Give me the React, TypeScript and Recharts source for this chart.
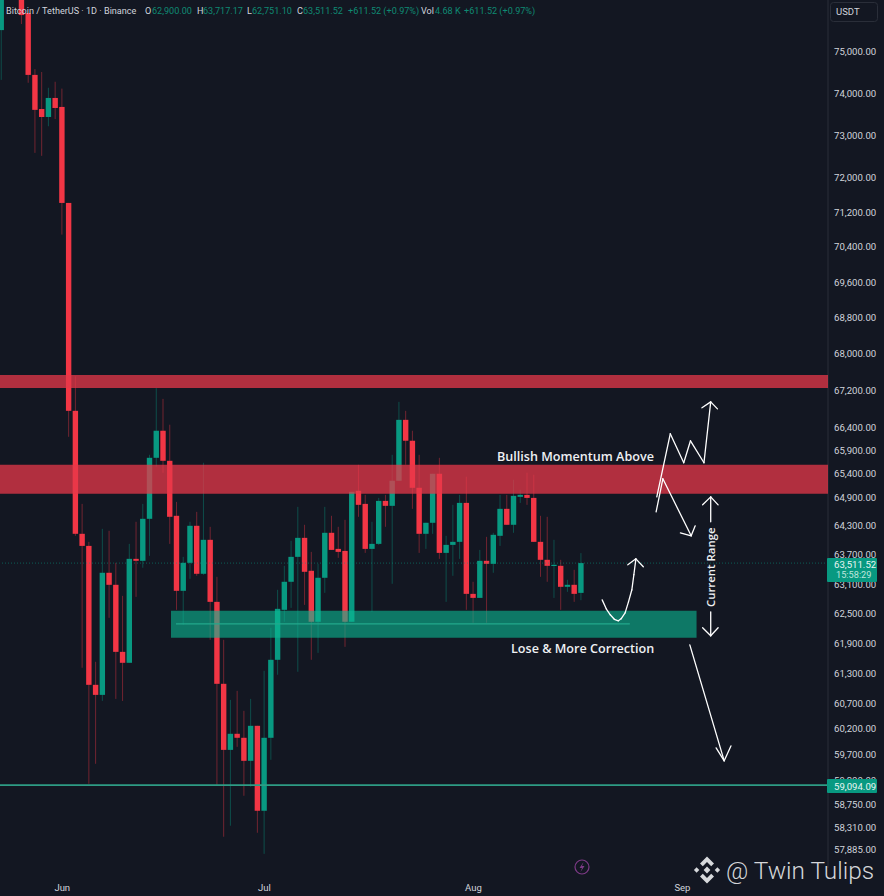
import React from "react";
import { ComposedChart, Bar, XAxis, YAxis, ReferenceArea, ReferenceLine } from "recharts";

const opens = [75510,null,null,76252,75930,74420,73600,73410,73865,73650,71390,66730,64118,63867,61050,60851,63312,63065,61707,61488,63599,63558,64431,65720,66300,65656,64494,62942,63517,64285,63291,63993,62717,61070,59774,60087,60009,59562,60243,58604,60009,61548,62555,63127,63640,64034,63353,62313,63209,64139,63805,63763,62313,65019,64744,63805,63909,64807,64703,65232,66535,66085,65083,64118,64348,65380,63722,63888,63951,64765,62880,62798,63558,63496,64076,64640,64306,64892,64934,64870,63951,63579,63455,63455,63024,63065,62900];
const highs = [76252,null,null,76252,75930,74560,74490,74110,74255,74090,71390,67480,64744,63951,61508,64222,64181,63517,62839,63909,64369,64744,65784,67225,66990,66430,64786,63640,64369,64577,65614,64264,63229,61949,60752,60931,60537,60772,60243,61329,62191,62963,63455,63972,64682,64306,63743,63496,64682,64494,64264,64410,64998,65571,64934,64369,64870,64934,65784,66925,66730,66300,65784,64348,65380,65720,64076,64724,64934,65317,63127,63784,64055,64139,64934,64934,65253,65040,65401,65359,64494,64473,63993,63579,63168,63373,63717.17];
const lows = [74300,null,null,75660,74230,72560,72490,73190,73360,70660,66170,64076,61389,59120,59505,60732,62393,60772,60732,61488,62819,63415,63661,65529,65401,63909,62555,62252,63188,63250,63271,61949,59101,58112,58320,59833,58890,59063,58187,57790,59582,61250,62313,62595,61309,62656,61548,61687,62901,63784,63620,61808,62313,64473,63722,62515,63888,64264,63086,65232,65571,64640,63722,63805,64118,63599,62717,63250,63599,62555,62292,62798,62292,63312,63867,64306,64139,64765,64724,63951,63229,63127,62798,62555,62921,62717,62751.1];
const closes = [76252,null,null,75880,74420,73580,73410,73865,73625,71390,66730,64118,63867,61050,60851,63312,63065,61707,61488,63599,63558,64431,65720,66300,65656,64473,62942,63517,64285,63291,63993,62717,61070,59774,60087,60009,59562,60243,58604,60009,61548,62575,63127,63640,64034,63332,62313,63209,64139,63784,63743,62313,64998,64724,63805,63909,64807,64703,65232,66535,66085,65083,64118,64348,65380,63722,63888,63951,64765,62880,62798,63558,63496,64097,64640,64306,64913,64934,64870,63951,63579,63455,63476,63024,63065,62880,63511.52];

const axisTicks = [75000,74000,73000,72000,71200,70400,69600,68800,68000,67200,66400,65900,65400,64900,64300,63700,63100,62500,61900,61300,60700,60200,59700,59200,58750,58310,57885];
const monthDays = [9,39,70,101];
const monthNames = ["Jun","Jul","Aug","Sep"];

const lastPrice = 63511.52;
const supportPrice = 59094.09;
const redZoneTop = [67513,67225];
const redZoneMid = [65571,64955];
const greenZone = [62535,61990];
const greenZoneDays = [25.13,103.1];
const innerLine = [[25.87,62272],[93.2,62272]];

const zigzag = [[97.2,64892],[99.2,66235],[101.2,65614],[102.2,66084],[104.2,65614],[105.2,66924]];
const zigzagHead = [[103.9,66795],[105.2,66924],[106.2,66773]];
const dropPath = [[97.1,64577],[98.1,65274],[102.3,64076]];
const dropHead = [[100.7,64139],[102.3,64076],[102.9,64285]];
const bouncePath = [[89.1,62757],[89.7,62575],[90.3,62454],[90.9,62363],[91.5,62333],[91.9,62373],[92.5,62494],[93,62717],[93.5,62963],[93.8,63271],[94.1,63599]];
const bounceHead = [[92.9,63476],[94.1,63599],[95.2,63435]];
const rangeTopLine = [[105.2,64369],[105.2,64892]];
const rangeTopHead = [[104,64724],[105.2,64892],[106.3,64724]];
const rangeBottomLine = [[105.2,62515],[105.2,62030]];
const rangeBottomHead = [[104,62191],[105.2,62030],[106.3,62191]];
const fallPath = [[102.1,61848],[107.2,59562]];
const fallHead = [[106,59812],[107.2,59562],[108.2,59851]];
const drawings = [zigzag,zigzagHead,dropPath,dropHead,bouncePath,bounceHead,rangeTopLine,rangeTopHead,rangeBottomLine,rangeBottomHead,fallPath,fallHead];

const candles = opens
  .map((o, i) => ({ i, o, h: highs[i], l: lows[i], c: closes[i] }))
  .filter((d) => d.o !== null);

const UP = "#089981";
const DOWN = "#f23645";
const BG = "#131722";
const TXT = "#d1d4dc";
const FONT = "Roboto, sans-serif";

function Candle(props: any) {
  const { x, y, width, height, payload } = props;
  const { o, h, l, c } = payload;
  const top = Math.min(y, y + height);
  const span = Math.abs(height);
  const py = (p: number) => top + (span * Math.log(h / p)) / Math.log(h / l);
  const cx = x + width / 2;
  const up = c >= o;
  const col = up ? UP : DOWN;
  const bt = py(Math.max(o, c));
  const bb = py(Math.min(o, c));
  return (
    <g>
      <rect x={cx - 0.5} y={top} width={1} height={span} fill={col} fillOpacity={0.42} />
      <rect x={cx - 2.7} y={bt} width={5.4} height={Math.max(bb - bt, 1.2)} fill={col} />
    </g>
  );
}

const fmt = (v: number) => v.toLocaleString("en-US", { minimumFractionDigits: 2, maximumFractionDigits: 2 });

export default function App() {
  return (
    <div style={{ position: "absolute", left: 0, top: 0, width: 884, height: 896, background: BG, overflow: "hidden" }}>
      <ComposedChart
        width={884}
        height={896}
        data={candles}
        margin={{ top: 0, right: 0, bottom: 0, left: 0 }}
      >
        <XAxis
          type="number"
          dataKey="i"
          domain={[-0.237, 122.6]}
          allowDataOverflow
          ticks={monthDays}
          interval={0}
          height={28}
          axisLine={false}
          tickLine={false}
          tickSize={0}
          tickMargin={16}
          tick={{ fill: TXT, fontSize: 9.5, fontFamily: FONT }}
          tickFormatter={(v: number) => monthNames[monthDays.indexOf(v)]}
        />
        <YAxis
          orientation="right"
          scale="log"
          domain={[57525, 76252]}
          allowDataOverflow
          ticks={axisTicks}
          interval={0}
          width={56}
          axisLine={{ stroke: "#2a2e39" }}
          tickLine={false}
          tickSize={0}
          tickMargin={6}
          tick={{ fill: TXT, fontSize: 9.6, fontFamily: FONT, dy: 1 }}
          tickFormatter={fmt}
        />
        <ReferenceLine y={lastPrice} stroke={UP} strokeOpacity={0.55} strokeDasharray="1 2" ifOverflow="visible" />
        <Bar
          dataKey={(d: any) => [d.l, d.h]}
          barSize={6}
          isAnimationActive={false}
          shape={<Candle />}
        />
        <ReferenceArea x1={-0.237} x2={122.6} y1={redZoneTop[0]} y2={redZoneTop[1]} fill="#e7384a" fillOpacity={0.75} stroke="none" ifOverflow="visible" zIndex={600} />
        <ReferenceArea x1={-0.237} x2={122.6} y1={redZoneMid[0]} y2={redZoneMid[1]} fill="#e7384a" fillOpacity={0.75} stroke="none" ifOverflow="visible" zIndex={600} />
        <ReferenceArea x1={greenZoneDays[0]} x2={greenZoneDays[1]} y1={greenZone[0]} y2={greenZone[1]} fill="#0cb995" fillOpacity={0.6} stroke="none" ifOverflow="visible" zIndex={600} />
        <ReferenceLine
          segment={innerLine.map(([x, y]) => ({ x, y }))}
          stroke="#22a88c"
          strokeWidth={1.3}
          ifOverflow="visible"
          zIndex={700}
        />
        <ReferenceLine y={supportPrice} stroke="#2e9c85" strokeWidth={1.6} ifOverflow="visible" zIndex={700} />
        {drawings.flatMap((path, k) =>
          path.slice(1).map((pt, j) => (
            <ReferenceLine
              key={`${k}-${j}`}
              segment={[
                { x: path[j][0], y: path[j][1] },
                { x: pt[0], y: pt[1] },
              ]}
              stroke="#ffffff"
              strokeWidth={1.3}
              strokeLinecap="round"
              ifOverflow="visible"
              zIndex={800}
            />
          ))
        )}
      </ComposedChart>

      <svg width={884} height={896} style={{ position: "absolute", left: 0, top: 0, pointerEvents: "none" }}>
        <g fontFamily={FONT} fontSize={9.1}>
          <text x={6} y={14} fill={TXT}>Bitcoin / TetherUS · 1D · Binance</text>
          <text x={145} y={14} fill={TXT}>O</text>
          <text x={152} y={14} fill="#0f8a73">62,900.00</text>
          <text x={197} y={14} fill={TXT}>H</text>
          <text x={203} y={14} fill="#0f8a73">63,717.17</text>
          <text x={247} y={14} fill={TXT}>L</text>
          <text x={252} y={14} fill="#0f8a73">62,751.10</text>
          <text x={297} y={14} fill={TXT}>C</text>
          <text x={303} y={14} fill="#0f8a73">63,511.52</text>
          <text x={348} y={14} fill="#0f8a73">+611.52 (+0.97%)</text>
          <text x={421} y={14} fill={TXT}>Vol</text>
          <text x={435} y={14} fill="#0f8a73">4.68 K</text>
          <text x={464} y={14} fill="#0f8a73">+611.52 (+0.97%)</text>
        </g>

        <rect x={830.5} y={2.5} width={47} height={19} rx={3} fill={BG} stroke="#2a2e39" />
        <text x={836} y={15} fill={TXT} fontFamily={FONT} fontSize={9.5}>USDT</text>

        <rect x={827} y={558} width={50} height={24} rx={1} fill={UP} />
        <text x={834} y={568} fill="#e8f5f2" fontFamily={FONT} fontSize={9.6}>63,511.52</text>
        <text x={836} y={578} fill="#bfe6dd" fontFamily={FONT} fontSize={9.2}>15:58:29</text>
        <rect x={827} y={779} width={50} height={14} rx={1} fill={UP} />
        <text x={834} y={789.5} fill="#e8f5f2" fontFamily={FONT} fontSize={9.6}>59,094.09</text>

        <g fontFamily="'Open Sans', sans-serif" fontWeight={600} fill="#eef0f3">
          <text x={497} y={460.5} fontSize={12.6}>Bullish Momentum Above</text>
          <text x={511} y={653} fontSize={12.6}>Lose &amp; More Correction</text>
          <text x={715} y={607} fontSize={11.4} transform="rotate(-90 715 607)">Current Range</text>
        </g>

        <g fill="none" stroke="#7d3a86" strokeWidth={1.2}>
          <circle cx={582} cy={867} r={7} />
        </g>
        <path d="M583.5 862 L579.5 868 L582 868 L580.5 872 L584.5 866 L582 866 Z" fill="#7d3a86" />

        <g fill="#d7d9dc">
          <path d="M707 856.5 L714 863.5 L711.2 866.3 L707 862 L702.8 866.3 L700 863.5 Z" />
          <path d="M707 883.5 L714 876.5 L711.2 873.7 L707 878 L702.8 873.7 L700 876.5 Z" />
          <path d="M707 866.6 L710.4 870 L707 873.4 L703.6 870 Z" />
          <path d="M696.6 867.3 L699.3 870 L696.6 872.7 L693.9 870 Z" />
          <path d="M717.4 867.3 L720.1 870 L717.4 872.7 L714.7 870 Z" />
        </g>
        <text x={726} y={879} fill="#d4d6d9" fontFamily={FONT} fontWeight={300} fontSize={24.4}>@ Twin Tulips</text>
      </svg>
    </div>
  );
}
